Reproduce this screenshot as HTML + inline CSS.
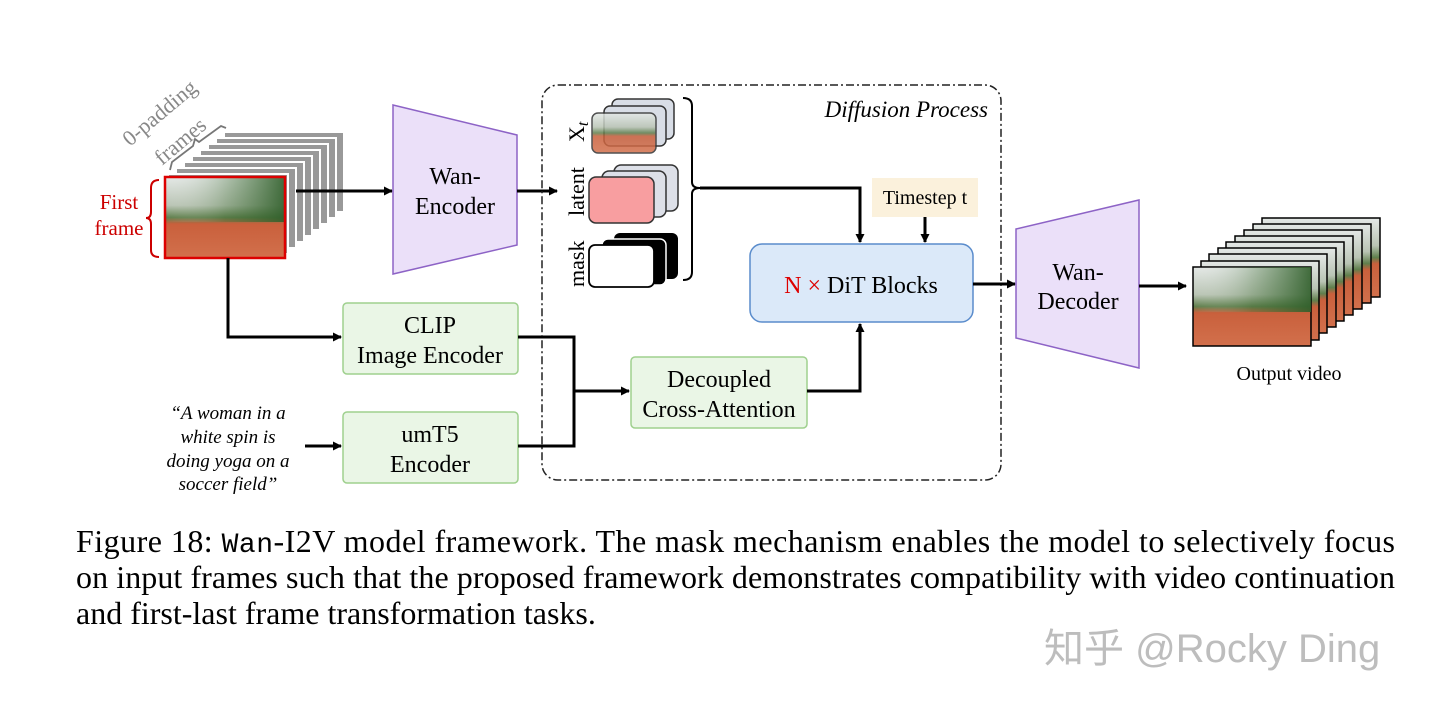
<!DOCTYPE html>
<html><head><meta charset="utf-8"><style>
html,body{margin:0;padding:0;background:#fff;width:1440px;height:710px;overflow:hidden}
svg{display:block}
text{font-family:"Liberation Serif",serif}
</style></head><body>
<svg width="1440" height="710" viewBox="0 0 1440 710" xmlns="http://www.w3.org/2000/svg">
<defs>
<marker id="ah" markerWidth="9" markerHeight="9" refX="8" refY="4.5" orient="auto" markerUnits="userSpaceOnUse"><path d="M0,0 L9,4.5 L0,9 z" fill="#000"/></marker>
<linearGradient id="photo" x1="0" y1="0" x2="0" y2="1">
<stop offset="0" stop-color="#e4e8e6"/><stop offset="0.35" stop-color="#b9c4b4"/><stop offset="0.5" stop-color="#5f7f4c"/><stop offset="0.58" stop-color="#c9603c"/><stop offset="1" stop-color="#d2704c"/>
</linearGradient>
<linearGradient id="trees" x1="0" y1="0" x2="1" y2="0">
<stop offset="0" stop-color="#fff" stop-opacity="0"/><stop offset="0.5" stop-color="#3f6e35" stop-opacity="0.3"/><stop offset="1" stop-color="#2f5e2a" stop-opacity="0.9"/>
</linearGradient>
</defs>

<!-- 0-padding frames -->
<g>
<rect x="224" y="132" width="120" height="80" fill="#999" stroke="#fff" stroke-width="2"/>
<rect x="216" y="138" width="120" height="80" fill="#999" stroke="#fff" stroke-width="2"/>
<rect x="208" y="144" width="120" height="80" fill="#999" stroke="#fff" stroke-width="2"/>
<rect x="200" y="150" width="120" height="80" fill="#999" stroke="#fff" stroke-width="2"/>
<rect x="192" y="156" width="120" height="80" fill="#999" stroke="#fff" stroke-width="2"/>
<rect x="184" y="162" width="120" height="80" fill="#999" stroke="#fff" stroke-width="2"/>
<rect x="176" y="168" width="120" height="80" fill="#999" stroke="#fff" stroke-width="2"/>
<rect x="168" y="174" width="120" height="80" fill="#999" stroke="#fff" stroke-width="2"/>
</g>
<rect x="165" y="177" width="120" height="81" fill="url(#photo)"/>
<rect x="165" y="177" width="120" height="45" fill="url(#trees)"/>
<rect x="165" y="177" width="120" height="81" fill="none" stroke="#d00" stroke-width="2.5"/>
<!-- brace for 0-padding -->
<path d="M170,170 L172,162 L193,146 L195,139 L199,142 L221,126 L226,128" fill="none" stroke="#777" stroke-width="1.8"/>
<text x="0" y="0" font-size="22" fill="#888" transform="translate(130,147) rotate(-40)">0-padding</text>
<text x="0" y="0" font-size="22" fill="#888" transform="translate(162,166) rotate(-40)">frames</text>
<!-- first frame -->
<text x="119" y="209" font-size="21" fill="#c00" text-anchor="middle">First</text>
<text x="119" y="235" font-size="21" fill="#c00" text-anchor="middle">frame</text>
<path d="M159,180 Q151,180 151,188 L151,212 Q151,218 146,218 Q151,218 151,224 L151,250 Q151,257 159,257" fill="none" stroke="#c00" stroke-width="2"/>

<line x1="296" y1="191" x2="392" y2="191" stroke="#000" stroke-width="3" marker-end="url(#ah)"/>

<!-- Encoder -->
<polygon points="393,105 517,135 517,245 393,274" fill="#ebe0f9" stroke="#8d63c6" stroke-width="1.5"/>
<text x="455" y="184" font-size="24" text-anchor="middle">Wan-</text>
<text x="455" y="214" font-size="24" text-anchor="middle">Encoder</text>
<line x1="517" y1="191" x2="557" y2="191" stroke="#000" stroke-width="3" marker-end="url(#ah)"/>

<!-- Diffusion box -->
<rect x="542" y="85" width="459" height="395" rx="16" fill="none" stroke="#222" stroke-width="1.5" stroke-dasharray="8,3,2,3"/>
<text x="988" y="117" font-size="23" font-style="italic" text-anchor="end">Diffusion Process</text>

<!-- Xt stack -->
<rect x="612" y="99" width="62" height="40" rx="6" fill="#d8dde6" stroke="#333" stroke-width="1.5"/>
<rect x="604" y="106" width="62" height="40" rx="6" fill="#d8dde6" stroke="#333" stroke-width="1.5"/>
<rect x="592" y="113" width="64" height="40" rx="6" fill="url(#photo)" stroke="#333" stroke-width="1.5" opacity="0.85"/>
<text transform="translate(584,142) rotate(-90)" font-size="22">X<tspan font-style="italic" font-size="16" dy="4">t</tspan></text>
<!-- latent -->
<rect x="614" y="165" width="64" height="46" rx="7" fill="#dde0e8" stroke="#333" stroke-width="1.5"/>
<rect x="602" y="171" width="64" height="46" rx="7" fill="#dde0e8" stroke="#333" stroke-width="1.5"/>
<rect x="589" y="177" width="65" height="46" rx="7" fill="#f89ea0" stroke="#333" stroke-width="1.5"/>
<text transform="translate(584,216) rotate(-90)" font-size="22">latent</text>
<!-- mask -->
<rect x="614" y="233" width="64" height="46" rx="6" fill="#000"/>
<rect x="602" y="239" width="64" height="46" rx="6" fill="#000" stroke="#fff" stroke-width="1.5"/>
<rect x="589" y="245" width="65" height="42" rx="6" fill="#fff" stroke="#000" stroke-width="1.8"/>
<text transform="translate(584,287) rotate(-90)" font-size="22">mask</text>
<!-- brace -->
<path d="M683,98 Q692,98 692,106 L692,182 Q692,188 700,188 Q692,188 692,194 L692,272 Q692,280 683,280" fill="none" stroke="#000" stroke-width="2"/>
<polyline points="700,188 860,188 860,242" fill="none" stroke="#000" stroke-width="3" marker-end="url(#ah)"/>

<!-- Timestep -->
<rect x="872" y="178" width="106" height="39" fill="#fbf1dc"/>
<text x="925" y="204" font-size="20" text-anchor="middle">Timestep t</text>
<line x1="925" y1="217" x2="925" y2="242" stroke="#000" stroke-width="3" marker-end="url(#ah)"/>

<!-- DiT -->
<rect x="750" y="244" width="223" height="78" rx="12" fill="#dbe9f9" stroke="#5a8ccc" stroke-width="1.5"/>
<text x="861" y="293" font-size="24" text-anchor="middle"><tspan fill="#d00">N × </tspan>DiT Blocks</text>
<line x1="973" y1="284" x2="1015" y2="284" stroke="#000" stroke-width="3" marker-end="url(#ah)"/>

<!-- Decoder -->
<polygon points="1016,229 1139,200 1139,368 1016,338" fill="#ebe0f9" stroke="#8d63c6" stroke-width="1.5"/>
<text x="1078" y="280" font-size="24" text-anchor="middle">Wan-</text>
<text x="1078" y="309" font-size="24" text-anchor="middle">Decoder</text>
<line x1="1139" y1="286" x2="1186" y2="286" stroke="#000" stroke-width="3" marker-end="url(#ah)"/>

<!-- Output video stack -->
<g stroke="#000" stroke-width="1.5">
<rect x="1262" y="218" width="118" height="79" fill="url(#photo)"/>
<rect x="1253" y="224" width="118" height="79" fill="url(#photo)"/>
<rect x="1244" y="230" width="118" height="79" fill="url(#photo)"/>
<rect x="1235" y="236" width="118" height="79" fill="url(#photo)"/>
<rect x="1226" y="242" width="118" height="79" fill="url(#photo)"/>
<rect x="1218" y="248" width="118" height="79" fill="url(#photo)"/>
<rect x="1209" y="254" width="118" height="79" fill="url(#photo)"/>
<rect x="1201" y="261" width="118" height="79" fill="url(#photo)"/>
<rect x="1193" y="267" width="118" height="79" fill="url(#photo)"/>
</g>
<rect x="1193" y="267" width="118" height="45" fill="url(#trees)"/>
<text x="1289" y="380" font-size="20" text-anchor="middle">Output video</text>

<polyline points="228,258 228,337 341,337" fill="none" stroke="#000" stroke-width="3" marker-end="url(#ah)"/>

<!-- CLIP -->
<rect x="343" y="303" width="175" height="71" rx="4" fill="#eaf6e6" stroke="#9fd08e" stroke-width="1.5"/>
<text x="430" y="333" font-size="24" text-anchor="middle">CLIP</text>
<text x="430" y="363" font-size="24" text-anchor="middle">Image Encoder</text>
<!-- umT5 -->
<rect x="343" y="412" width="175" height="71" rx="4" fill="#eaf6e6" stroke="#9fd08e" stroke-width="1.5"/>
<text x="430" y="442" font-size="24" text-anchor="middle">umT5</text>
<text x="430" y="472" font-size="24" text-anchor="middle">Encoder</text>

<!-- prompt -->
<g font-size="19" font-style="italic" text-anchor="middle">
<text x="228" y="419">“A woman in a</text>
<text x="228" y="443">white spin is</text>
<text x="228" y="467">doing yoga on a</text>
<text x="228" y="490">soccer field”</text>
</g>
<line x1="305" y1="446" x2="341" y2="446" stroke="#000" stroke-width="3" marker-end="url(#ah)"/>

<polyline points="518,337 574,337 574,446 518,446" fill="none" stroke="#000" stroke-width="3"/>
<line x1="574" y1="391" x2="629" y2="391" stroke="#000" stroke-width="3" marker-end="url(#ah)"/>

<!-- Decoupled -->
<rect x="631" y="357" width="176" height="71" rx="4" fill="#eaf6e6" stroke="#9fd08e" stroke-width="1.5"/>
<text x="719" y="387" font-size="24" text-anchor="middle">Decoupled</text>
<text x="719" y="417" font-size="24" text-anchor="middle">Cross-Attention</text>
<polyline points="807,391 860,391 860,324" fill="none" stroke="#000" stroke-width="3" marker-end="url(#ah)"/>

<!-- caption -->
<g font-size="32">
<text x="76" y="552" textLength="1319" lengthAdjust="spacing">Figure 18: <tspan font-family="Liberation Mono, monospace" font-size="28">Wan</tspan>-I2V model framework. The mask mechanism enables the model to selectively focus</text>
<text x="76" y="588" textLength="1319" lengthAdjust="spacing">on input frames such that the proposed framework demonstrates compatibility with video continuation</text>
<text x="76" y="624">and first-last frame transformation tasks.</text>
</g>
<text x="1044" y="662" font-size="40" fill="#bdbdbd" style='font-family:"Liberation Sans","Noto Sans CJK SC",sans-serif'>知乎 @Rocky Ding</text>
</svg>
</body></html>
